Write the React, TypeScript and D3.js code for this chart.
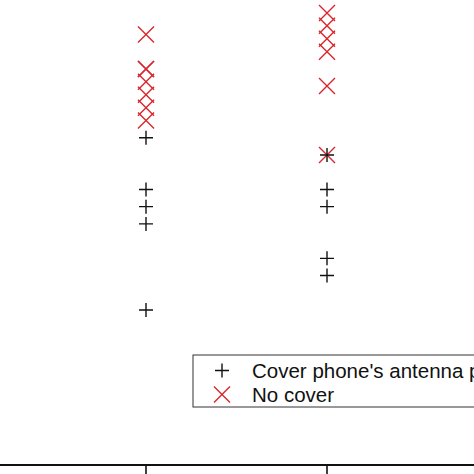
import React from 'react';
import * as d3 from 'd3';

// x positions of the two test cases (only ticks are visible in the crop)
const categories = [1, 2];

// "Cover phone's antenna" readings per category
const coverAntenna: number[][] = [
  [-34, -46, -50, -54, -74],
  [-38, -46, -50, -62, -66],
];

// "No cover" readings per category
const noCover: number[][] = [
  [-10, -18, -18, -21, -24, -27, -30],
  [-5, -8, -11, -14, -22, -38],
];

const legendLabels = ["Cover phone's antenna part", 'No cover'];

const width = 474;
const height = 474;
const red = '#d8262c';
const plusHalf = 7;
const crossHalf = 8;

const xScale = d3.scaleLinear().domain([0, 3]).range([-35, 508]);
const yScale = d3.scaleLinear().domain([-110, -2]).range([465, 0]);

const plusPath = (x: number, y: number, r = plusHalf) =>
  `M${x - r},${y}H${x + r}M${x},${y - r}V${y + r}`;
const crossPath = (x: number, y: number, r = crossHalf) =>
  `M${x - r},${y - r}L${x + r},${y + r}M${x - r},${y + r}L${x + r},${y - r}`;

function App() {
  const axisY = yScale(-110);

  return (
    <svg
      width={width}
      height={height}
      style={{ position: 'absolute', left: 0, top: 0, background: '#fff', display: 'block' }}
    >
      <g className="marks">
        {categories.map((c, i) =>
          noCover[i].map((v, j) => (
            <path key={`x-${i}-${j}`} d={crossPath(xScale(c), yScale(v))}
              stroke={red} strokeWidth={1.4} fill="none" />
          ))
        )}
        {categories.map((c, i) =>
          coverAntenna[i].map((v, j) => (
            <path key={`p-${i}-${j}`} d={plusPath(xScale(c), yScale(v))}
              stroke="#111" strokeWidth={1.4} fill="none" />
          ))
        )}
      </g>

      <g className="legend">
        <rect x={193} y={355} width={320} height={52} fill="#fff" stroke="#333" strokeWidth={1} />
        <path d={plusPath(222, 370.5)} stroke="#111" strokeWidth={1.4} fill="none" />
        <path d={crossPath(222, 394.5)} stroke={red} strokeWidth={1.4} fill="none" />
        {legendLabels.map((t, i) => (
          <text key={t} x={252} y={377.5 + i * 24.5} fontFamily="Liberation Sans, Arial, sans-serif"
            fontSize={20.5} fill="#111">{t}</text>
        ))}
      </g>

      <g className="x-axis">
        <line x1={0} x2={width} y1={axisY} y2={axisY} stroke="#111" strokeWidth={2} />
        {categories.map((c) => (
          <line key={c} x1={xScale(c)} x2={xScale(c)} y1={axisY} y2={height}
            stroke="#111" strokeWidth={1.6} />
        ))}
      </g>
    </svg>
  );
}

export default App;
